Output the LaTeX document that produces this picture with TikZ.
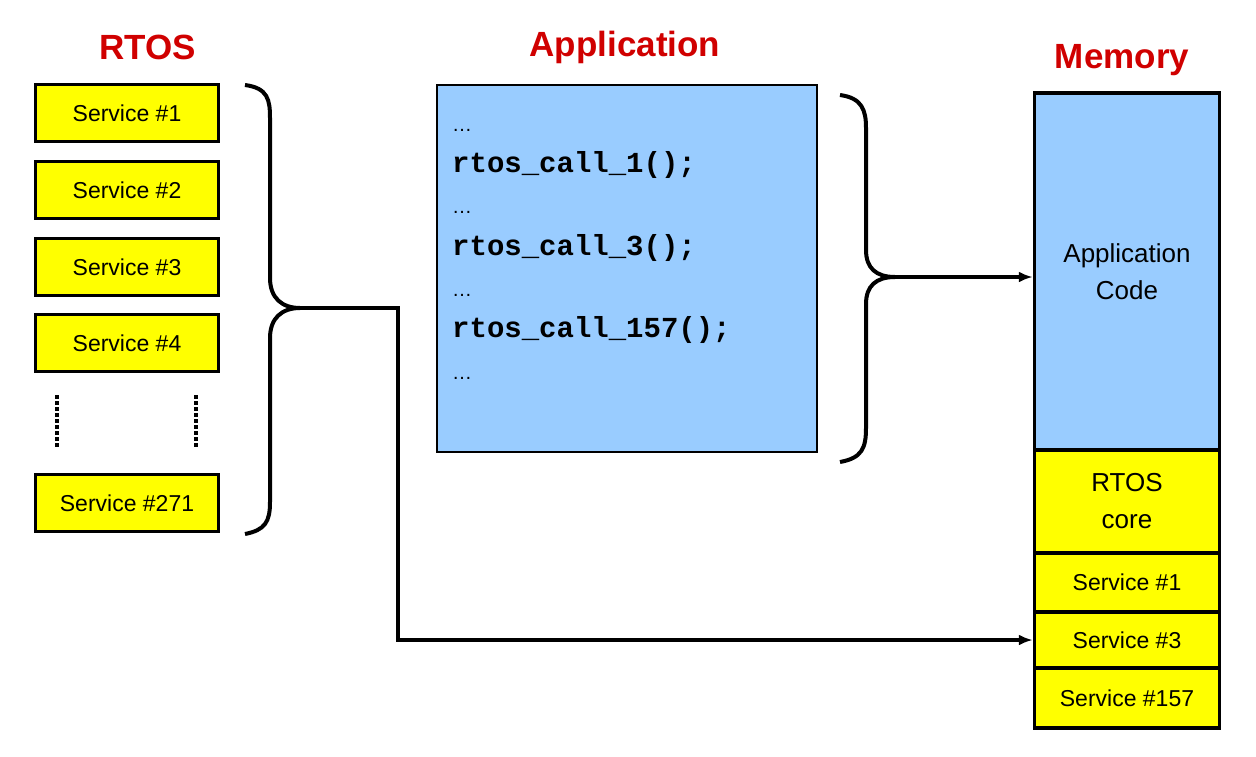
\documentclass[tikz,border=0pt]{standalone}
\usepackage{fontspec}
\setmainfont{Liberation Sans}
\newfontfamily\cmono{Liberation Mono}
\usetikzlibrary{arrows.meta}
\definecolor{ybox}{HTML}{FFFF00}
\definecolor{bbox}{HTML}{99CCFF}
\definecolor{ttl}{HTML}{D00000}
\begin{document}
\begin{tikzpicture}[x=1pt,y=-1pt,
  svc/.style={draw=black,line width=3.5pt,fill=ybox,minimum width=183pt,minimum height=57pt,font=\fontsize{23}{25}\selectfont,inner sep=0pt},
  mem/.style={draw=black,line width=3.5pt,fill=ybox,minimum width=185pt,inner sep=0pt,align=center,font=\fontsize{23}{25}\selectfont},
  title/.style={text=ttl,font=\fontsize{35}{38}\selectfont\bfseries},
  code/.style={anchor=west,font=\cmono\bfseries\fontsize{29}{31}\selectfont,inner sep=0pt},
  dots/.style={anchor=west,font=\fontsize{20}{22}\selectfont,inner sep=0pt},
  brace/.style={line width=4pt},
  conn/.style={line width=3.5pt,-{Latex[length=14pt,width=11pt]}}]
\useasboundingbox (0,0) rectangle (1256,756);
\node[title] (t1) at (148,47) {RTOS};
\node[title] (t2) at (625,47) {Application};
\node[title] (t3) at (1122,60) {Memory};
\node[svc] (s1) at (127,113) {Service \#1};
\node[svc] (s2) at (127,190) {Service \#2};
\node[svc] (s3) at (127,267) {Service \#3};
\node[svc] (s4) at (127,343) {Service \#4};
\node[svc] (s271) at (127,503) {Service \#271};
\draw[line width=4pt,dotted] (57,395) -- (57,447);
\draw[line width=4pt,dotted] (196,395) -- (196,447);
\node[draw=black,line width=2pt,fill=bbox,minimum width=380pt,minimum height=367pt,inner sep=0pt] (app) at (627,268.5) {};
\node[dots] (d1) at (452,130) {\dots};
\node[code] (c1) at (452,165) {rtos\_call\_1();};
\node[dots] (d2) at (452,212) {\dots};
\node[code] (c3) at (452,248) {rtos\_call\_3();};
\node[dots] (d3) at (452,295) {\dots};
\node[code] (c157) at (452,330) {rtos\_call\_157();};
\node[dots] (d4) at (452,378) {\dots};
% memory
\node[mem,fill=bbox,minimum height=357pt,font=\fontsize{26}{37}\selectfont] (mapp) at (1127,271.5) {Application\\Code};
\node[mem,minimum height=103pt,font=\fontsize{26}{37}\selectfont] (mcore) at (1127,501.5) {RTOS\\core};
\node[mem,minimum height=59pt] (m1) at (1127,582.5) {Service \#1};
\node[mem,minimum height=56pt] (m3) at (1127,640) {Service \#3};
\node[mem,minimum height=60pt] (m157) at (1127,698) {Service \#157};
% braces
\coordinate (tipL) at (300,308);
\draw[brace] (245,85) .. controls (268,88) and (270,100) .. (270,118) -- (270,278) .. controls (270,298) and (282,308) .. (tipL)
  .. controls (282,308) and (270,318) .. (270,338) -- (270,502) .. controls (270,522) and (265,530) .. (245,534);
\coordinate (tipR) at (895,277);
\draw[brace] (840,95) .. controls (862,98) and (866,110) .. (866,128) -- (866,250) .. controls (866,268) and (876,277) .. (tipR)
  .. controls (876,277) and (866,286) .. (866,304) -- (866,428) .. controls (866,448) and (862,458) .. (840,462);
\draw[conn] (tipR) -- (mapp.west|-tipR);
\draw[conn] (tipL) -- (398,308) -- (398,640) -- (m3.west);
\end{tikzpicture}
\end{document}
